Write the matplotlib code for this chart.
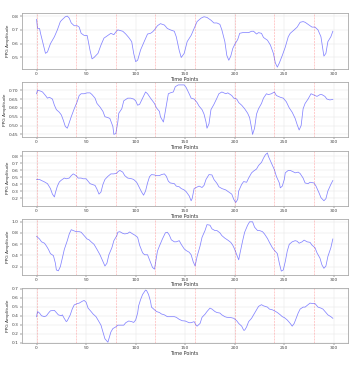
import matplotlib
matplotlib.use("Agg")
import matplotlib.pyplot as plt

# ---- data ----
t1 = [0,1,3,4,9,11,14,18,21,24,26,29,31,33,35,38,41,43,45,48,51,52,54,56,58,60,62,65,68,72,75,78,80,82,87,90,93,96,98,100,102,105,108,112,115,117,119,122,125,129,132,135,139,141,144,146,149,152,156,159,162,166,169,172,176,179,182,185,187,190,192,194,196,198,200,203,205,208,211,214,217,219,222,224,227,229,233,236,239,241,243,245,248,251,254,256,260,263,266,269,271,275,278,281,284,287,289,290,292,294,297,299]
v1 = [0.776,0.71,0.71,0.675,0.53,0.54,0.60,0.65,0.70,0.76,0.775,0.795,0.80,0.785,0.75,0.73,0.73,0.72,0.675,0.66,0.66,0.625,0.55,0.49,0.50,0.515,0.53,0.59,0.64,0.66,0.675,0.665,0.685,0.70,0.69,0.67,0.645,0.615,0.53,0.47,0.48,0.555,0.605,0.67,0.675,0.685,0.70,0.73,0.745,0.735,0.71,0.70,0.69,0.65,0.55,0.50,0.53,0.615,0.66,0.71,0.76,0.785,0.795,0.79,0.77,0.75,0.75,0.74,0.70,0.615,0.515,0.48,0.51,0.565,0.595,0.63,0.675,0.68,0.68,0.68,0.69,0.69,0.67,0.68,0.675,0.645,0.625,0.59,0.53,0.46,0.43,0.46,0.515,0.575,0.65,0.675,0.70,0.72,0.755,0.76,0.755,0.735,0.72,0.72,0.70,0.65,0.555,0.51,0.53,0.615,0.65,0.69]

t2 = [0,1,4,6,9,11,13,16,18,20,23,25,27,29,31,32,35,38,41,43,45,48,51,54,56,59,61,64,67,69,72,74,77,78,80,82,83,86,88,92,95,98,100,102,104,107,110,112,115,119,121,124,125,128,129,131,133,135,138,140,143,146,149,151,154,156,159,162,164,167,169,171,172,174,176,179,182,184,187,191,193,197,199,202,204,207,210,213,215,217,218,220,222,224,227,229,232,234,237,240,242,246,249,252,255,258,261,263,265,267,269,271,274,277,279,283,286,288,291,293,296,299]
v2 = [0.68,0.70,0.695,0.69,0.67,0.655,0.66,0.65,0.615,0.59,0.575,0.56,0.53,0.495,0.485,0.50,0.55,0.595,0.635,0.67,0.68,0.68,0.685,0.685,0.675,0.655,0.625,0.605,0.58,0.55,0.545,0.54,0.495,0.45,0.455,0.52,0.57,0.595,0.64,0.655,0.655,0.65,0.64,0.615,0.62,0.655,0.69,0.68,0.655,0.625,0.60,0.58,0.55,0.52,0.55,0.615,0.68,0.685,0.69,0.72,0.73,0.73,0.73,0.715,0.68,0.655,0.65,0.63,0.61,0.59,0.565,0.52,0.485,0.51,0.59,0.62,0.655,0.68,0.69,0.68,0.685,0.67,0.655,0.65,0.63,0.615,0.595,0.57,0.545,0.485,0.45,0.485,0.565,0.595,0.625,0.655,0.68,0.675,0.68,0.69,0.67,0.66,0.655,0.635,0.60,0.575,0.54,0.505,0.475,0.50,0.595,0.625,0.65,0.68,0.675,0.665,0.675,0.675,0.665,0.65,0.645,0.648]

t3 = [0,3,5,8,11,14,16,18,19,21,23,25,28,30,33,35,37,40,42,45,47,50,52,54,56,59,61,63,65,67,69,72,75,78,81,82,84,87,89,92,96,98,101,103,106,108,110,112,114,116,119,121,124,126,129,131,133,135,139,141,144,146,149,151,154,156,157,159,161,164,167,169,171,174,177,179,182,184,187,191,194,197,199,201,203,204,207,209,212,214,217,219,222,224,227,229,231,233,234,237,240,242,245,246,248,250,251,254,256,259,261,264,266,269,271,274,276,280,282,285,287,290,292,294,297,299]
v3 = [0.47,0.47,0.455,0.435,0.41,0.34,0.26,0.22,0.28,0.375,0.435,0.46,0.49,0.48,0.49,0.525,0.55,0.525,0.49,0.49,0.48,0.48,0.445,0.41,0.40,0.385,0.33,0.26,0.29,0.40,0.47,0.515,0.55,0.55,0.56,0.58,0.60,0.575,0.525,0.49,0.48,0.47,0.43,0.375,0.29,0.245,0.305,0.42,0.51,0.54,0.535,0.525,0.525,0.54,0.55,0.515,0.445,0.42,0.41,0.375,0.365,0.34,0.32,0.295,0.235,0.165,0.195,0.34,0.355,0.375,0.355,0.385,0.47,0.54,0.535,0.47,0.415,0.365,0.34,0.32,0.29,0.26,0.185,0.14,0.185,0.305,0.40,0.44,0.43,0.49,0.565,0.59,0.62,0.67,0.715,0.775,0.825,0.85,0.80,0.705,0.61,0.515,0.42,0.35,0.375,0.47,0.565,0.60,0.60,0.58,0.565,0.575,0.555,0.49,0.42,0.41,0.43,0.42,0.375,0.28,0.21,0.165,0.195,0.305,0.40,0.455]

t4 = [0,3,5,8,10,12,14,17,19,20,22,24,26,28,31,33,35,37,40,43,45,48,51,53,55,58,61,64,67,69,71,73,76,78,81,82,84,87,89,92,94,97,99,102,104,107,109,112,114,117,119,120,122,124,127,130,132,134,136,139,141,144,146,149,151,154,156,158,160,162,165,167,170,172,175,177,180,182,185,187,190,193,196,198,200,202,204,205,208,210,213,215,218,220,223,225,228,230,233,235,238,240,243,245,247,249,251,253,255,258,261,263,265,268,270,273,276,278,281,283,286,288,290,292,294,297,299]
v4 = [0.737,0.69,0.64,0.615,0.565,0.505,0.43,0.395,0.26,0.14,0.125,0.20,0.35,0.505,0.66,0.78,0.855,0.84,0.82,0.82,0.81,0.75,0.69,0.675,0.64,0.595,0.505,0.41,0.29,0.21,0.26,0.41,0.535,0.66,0.75,0.81,0.82,0.79,0.78,0.79,0.815,0.78,0.76,0.72,0.58,0.445,0.41,0.41,0.32,0.185,0.155,0.26,0.475,0.565,0.69,0.80,0.81,0.76,0.675,0.64,0.64,0.66,0.595,0.515,0.485,0.455,0.41,0.29,0.21,0.38,0.565,0.72,0.84,0.945,0.935,0.87,0.84,0.84,0.80,0.75,0.705,0.67,0.63,0.58,0.505,0.41,0.32,0.41,0.66,0.81,0.935,0.995,0.995,0.90,0.84,0.84,0.82,0.78,0.70,0.63,0.535,0.49,0.43,0.26,0.12,0.14,0.29,0.475,0.595,0.64,0.66,0.65,0.615,0.64,0.67,0.64,0.63,0.58,0.535,0.445,0.35,0.23,0.17,0.21,0.38,0.535,0.69]

t5 = [0,1,3,5,8,10,12,14,18,20,22,25,26,28,30,31,34,36,38,41,43,46,48,50,52,55,57,60,62,65,67,69,72,73,75,77,80,82,85,88,90,93,96,98,100,102,103,105,107,110,111,113,115,116,119,121,124,126,129,132,135,139,141,144,147,150,154,156,159,161,162,165,167,170,172,175,177,180,182,185,187,190,192,196,199,202,204,207,209,210,212,214,217,219,222,224,227,229,233,235,238,240,243,246,248,250,253,256,258,260,262,264,266,269,271,274,276,279,281,284,287,289,292,294,297,299]
v5 = [0.39,0.447,0.43,0.40,0.39,0.40,0.43,0.455,0.46,0.435,0.41,0.40,0.41,0.37,0.335,0.345,0.41,0.475,0.52,0.535,0.54,0.56,0.57,0.55,0.485,0.447,0.42,0.39,0.353,0.296,0.22,0.145,0.107,0.145,0.22,0.258,0.277,0.296,0.296,0.296,0.323,0.342,0.335,0.326,0.353,0.43,0.51,0.58,0.636,0.685,0.68,0.636,0.56,0.496,0.466,0.447,0.436,0.42,0.41,0.39,0.39,0.39,0.383,0.36,0.345,0.342,0.323,0.323,0.335,0.296,0.285,0.315,0.383,0.417,0.447,0.485,0.474,0.447,0.436,0.43,0.41,0.39,0.383,0.38,0.372,0.345,0.315,0.285,0.24,0.24,0.277,0.335,0.372,0.41,0.466,0.504,0.523,0.51,0.496,0.474,0.466,0.455,0.436,0.41,0.39,0.38,0.353,0.315,0.285,0.315,0.372,0.43,0.474,0.496,0.496,0.523,0.54,0.535,0.535,0.496,0.485,0.474,0.436,0.41,0.39,0.372]

segment_marks = [0, 40, 80, 120, 160, 200, 240, 280]
x_ticks = [0, 50, 100, 150, 200, 250, 300]
y_ticks = [
    [0.5, 0.6, 0.7, 0.8],
    [0.45, 0.50, 0.55, 0.60, 0.65, 0.70],
    [0.2, 0.3, 0.4, 0.5, 0.6, 0.7, 0.8],
    [0.2, 0.4, 0.6, 0.8, 1.0],
    [0.1, 0.2, 0.3, 0.4, 0.5, 0.6, 0.7],
]
y_limits = [(0.418, 0.82), (0.433, 0.747), (0.09, 0.885), (0.058, 1.043), (0.096, 0.711)]

series_t = [t1, t2, t3, t4, t5]
series_v = [v1, v2, v3, v4, v5]

# ---- figure ----
W, H = 362, 386
fig = plt.figure(figsize=(W / 100, H / 100), dpi=100)
left_px, right_px = 21.7, 347.7
ax_h_px = 55.5
tops_px = [13.3, 81.9, 150.5, 219.1, 287.7]

fs = 3.2
for i in range(5):
    top = tops_px[i]
    ax = fig.add_axes([left_px / W, 1 - (top + ax_h_px) / H,
                       (right_px - left_px) / W, ax_h_px / H])
    ax.plot(series_t[i], series_v[i], color="#3333ff", alpha=0.6, lw=0.55)
    for m in segment_marks:
        ax.axvline(m, color="red", ls="--", lw=0.4, alpha=0.35)
    ax.set_xlim(-15, 314)
    ax.set_ylim(*y_limits[i])
    ax.set_xticks(x_ticks)
    ax.set_yticks(y_ticks[i])
    if i == 1:
        ax.set_yticklabels([f"{v:.2f}" for v in y_ticks[i]])
    else:
        ax.set_yticklabels([f"{v:.1f}" for v in y_ticks[i]])
    ax.grid(True, color="#e6e6e6", lw=0.35)
    ax.set_axisbelow(True)
    for s in ax.spines.values():
        s.set_color("#aaaaaa")
        s.set_linewidth(0.6)
    ax.tick_params(labelsize=fs, length=1.2, width=0.35, pad=1.0,
                   colors="#444444")
    ax.set_xlabel("Time Points", fontsize=fs + 0.3, labelpad=0.6, color="#333333")
    ax.set_ylabel("PPG Amplitude", fontsize=fs, labelpad=1.0, color="#333333")

fig.savefig("out.png", dpi=100)
